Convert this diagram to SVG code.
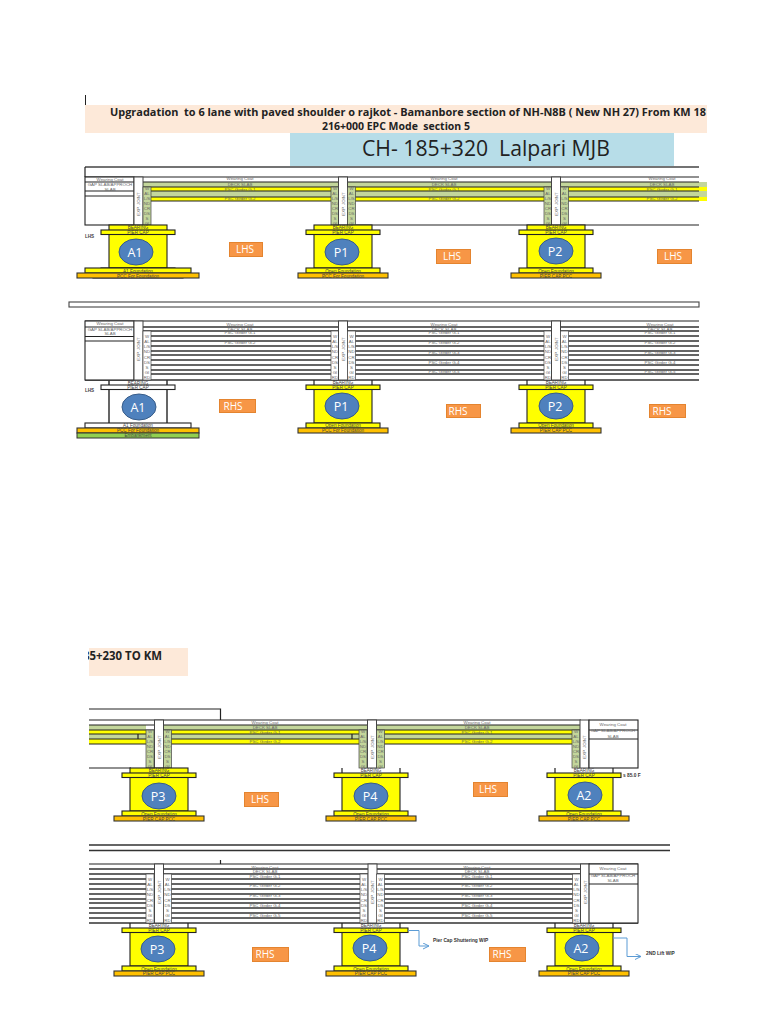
<svg xmlns="http://www.w3.org/2000/svg" width="768" height="1024" viewBox="0 0 768 1024">
<style>
text{font-family:"Liberation Sans",Arial,sans-serif}
.s{font-size:4.4px;fill:#666;text-anchor:middle}
.m{font-size:4.6px;fill:#444;text-anchor:middle}
.t{font-family:"Open Sans","Liberation Sans",sans-serif;font-weight:bold;font-size:11px;fill:#222}
.lab{font-family:"Open Sans","Liberation Sans",sans-serif;font-size:10px;fill:#fff;text-anchor:middle}
.bub{font-family:"Open Sans","Liberation Sans",sans-serif;font-size:12.5px;fill:#fff;text-anchor:middle}
.note{font-size:4.8px;font-weight:bold;fill:#333}
.ln{fill:none;stroke:#222;stroke-width:1.2}
.gl{fill:none;stroke:#333;stroke-width:1.5}
.gr{fill:#c3d69b}
.ye{fill:#ff0}
.box{fill:#fff;stroke:#222;stroke-width:1.1}
.jt{fill:#fff;stroke:#444;stroke-width:1}
.o{fill:#f79646;stroke:#e4842f;stroke-width:1}
.el{fill:#4f81bd;stroke:#385d8a;stroke-width:1}
.y{fill:#ff0;stroke:#222;stroke-width:1.1}
.w{fill:#fff;stroke:#222;stroke-width:1.1}
.p{fill:#ffc000;stroke:#333;stroke-width:1.1}
.g{fill:#92d050;stroke:#333;stroke-width:1}
.seatg{fill:#c3d69b;stroke:#444;stroke-width:.7}
.seatw{fill:#fff;stroke:#444;stroke-width:.7}
.ar{fill:none;stroke:#5b9bd5;stroke-width:1}
</style>
<defs>
<marker id="ah" markerWidth="7" markerHeight="7" refX="6" refY="3" orient="auto"><path d="M0 0L6 3L0 6" fill="none" stroke="#5b9bd5"/></marker>
<clipPath id="hc"><rect x="88" y="648" width="100" height="28"/></clipPath>
<g id="pier">
<rect class="y" x="0" y="0" width="58" height="5.5"/>
<rect class="y" x="0" y="9" width="58" height="34"/>
<rect class="y" x="-8" y="5" width="74" height="4.5"/>
<rect class="y" x="-8" y="43" width="74" height="5"/>
<rect class="p" x="-16" y="48" width="90" height="5"/>
<text class="m" x="29" y="4.2">BEARING</text>
<text class="m" x="29" y="8.7">PIER CAP</text>
</g>
<g id="pierw">
<path class="ln" d="M0 0V5.5M58 0V5.5"/>
<rect class="y" x="0" y="9" width="58" height="34"/>
<rect class="y" x="-8" y="5" width="74" height="4.5"/>
<rect class="y" x="-8" y="43" width="74" height="5"/>
<rect class="p" x="-16" y="48" width="90" height="5"/>
<text class="m" x="29" y="4.2">BEARING</text>
<text class="m" x="29" y="8.7">PIER CAP</text>
</g>
<g id="sg"><rect class="seatg" x="0" y="0" width="8" height="38"/>
<text class="s" x="4" y="3">W</text><text class="s" x="4" y="8">AL</text><text class="s" x="4" y="13">L/S</text><text class="s" x="4" y="18">ND</text><text class="s" x="4" y="23">CR</text><text class="s" x="4" y="28">DS</text><text class="s" x="4" y="33">S</text><text class="s" x="4" y="37.5">GI</text></g>
<g id="sw"><rect class="seatw" x="0" y="0" width="8" height="49"/>
<text class="s" x="4" y="6.5">W</text><text class="s" x="4" y="11.5">AL</text><text class="s" x="4" y="17">L/S</text><text class="s" x="4" y="22">ND</text><text class="s" x="4" y="27.5">CR</text><text class="s" x="4" y="32.5">DS</text><text class="s" x="4" y="38">S</text><text class="s" x="4" y="42.5">GI</text><text class="s" x="4" y="48">RD</text></g>
<g id="jl"><rect class="jt" x="0" y="0" width="9" height="48"/><text class="s" transform="translate(6 27) rotate(-90)">EXP. JOINT</text></g>
<g id="jr"><rect class="jt" x="0" y="0" width="9" height="59"/><text class="s" transform="translate(6 28) rotate(-90)">EXP. JOINT</text></g>
</defs>
<rect width="768" height="1024" fill="#fff"/>

<g id="title">
<path d="M85.500 95V105" stroke="#222" fill="none"/>
<rect x="85" y="105" width="622" height="28" fill="#fde9d9"/>
<text class="t" xml:space="preserve" x="110" y="116" textLength="596" lengthAdjust="spacingAndGlyphs">Upgradation  to 6 lane with paved shoulder o rajkot - Bamanbore section of NH-N8B ( New NH 27) From KM 18</text>
<text class="t" xml:space="preserve" x="396" y="129.500" text-anchor="middle" textLength="148" lengthAdjust="spacingAndGlyphs">216+000 EPC Mode  section 5</text>
<rect x="290" y="133" width="384" height="33" fill="#b7dde8"/>
<text xml:space="preserve" x="362" y="156" font-size="21" fill="#222" style="font-family:'Open Sans','Liberation Sans',sans-serif" textLength="248" lengthAdjust="spacingAndGlyphs">CH- 185+320  Lalpari MJB</text>
</g>

<g id="deck-lhs-1">
<path d="M85 167H699" stroke="#444" stroke-width="1.5"/>
<path class="ln" d="M85 167V177"/>
<rect class="gr" x="143" y="182" width="195" height="5"/><rect class="ye" x="143" y="187" width="195" height="4"/><rect class="gr" x="143" y="191" width="195" height="6"/><rect class="ye" x="143" y="197" width="195" height="4"/>
<rect class="gr" x="347" y="182" width="204" height="5"/><rect class="ye" x="347" y="187" width="204" height="4"/><rect class="gr" x="347" y="191" width="204" height="6"/><rect class="ye" x="347" y="197" width="204" height="4"/>
<rect class="gr" x="560" y="182" width="147" height="5"/><rect class="ye" x="560" y="187" width="147" height="4"/><rect class="gr" x="560" y="191" width="147" height="6"/><rect class="ye" x="560" y="197" width="147" height="4"/>
<path class="ln" d="M85 177H699M143 182H699M143 187H699M143 191H699M143 197H699M143 201H699M356 225H699"/>
<rect class="box" x="85" y="177" width="49" height="48"/><path class="ln" d="M85 182H134M85 191H134M85 196H134"/>
<text class="s" x="110" y="180.500">Wearing Coat</text><text class="s" x="110" y="186">GAP SLAB/APPROCH</text><text class="s" x="110" y="190.500">SLAB</text>
<text class="s" x="240" y="180">Wearing Coat</text><text class="s" x="240" y="185.500">DECK SLAB</text><text class="s" x="240" y="190.500">PSC Girder G-1</text><text class="s" x="240" y="200">PSC Girder G-2</text>
<text class="s" x="444" y="180">Wearing Coat</text><text class="s" x="444" y="185.500">DECK SLAB</text><text class="s" x="444" y="190.500">PSC Girder G-1</text><text class="s" x="444" y="200">PSC Girder G-2</text>
<text class="s" x="662" y="180">Wearing Coat</text><text class="s" x="662" y="185.500">DECK SLAB</text><text class="s" x="662" y="190.500">PSC Girder G-1</text><text class="s" x="662" y="200">PSC Girder G-2</text>
<use href="#jl" x="134" y="177"/><use href="#sg" x="143" y="187"/>
<use href="#sg" x="331" y="187"/><use href="#jl" x="338.500" y="177"/><use href="#sg" x="347.500" y="187"/>
<use href="#sg" x="544" y="187"/><use href="#jl" x="551.500" y="177"/><use href="#sg" x="560.500" y="187"/>
<text class="m" x="85" y="238" style="text-anchor:start;font-weight:bold">LHS</text>
</g>
<g id="A1-lhs"><use href="#pier" x="109" y="225"/><rect class="y" x="85" y="268" width="106" height="5"/><rect class="p" x="77" y="273" width="122" height="5"/><text class="m" x="138" y="272.500">A1 Foundation</text><text class="m" x="138" y="277.500">PCC For Foundation</text><ellipse class="el" cx="136" cy="252" rx="17" ry="13"/><text class="bub" x="135" y="256.500">A1</text></g>
<g id="P1-lhs"><use href="#pier" x="314" y="225"/><text class="m" x="343" y="272.500">Open Foundation</text><text class="m" x="343" y="277.500">PCC For Foundation</text><ellipse class="el" cx="342" cy="252" rx="17" ry="13"/><text class="bub" x="341" y="256.500">P1</text></g>
<g id="P2-lhs"><use href="#pier" x="527" y="225"/><text class="m" x="556" y="272.500">Open Foundation</text><text class="m" x="556" y="277.500">PIER CAP PCC</text><ellipse class="el" cx="556" cy="251" rx="17" ry="13"/><text class="bub" x="555" y="255.500">P2</text></g>
<g id="lhs-1"><rect class="o" x="229.500" y="242.500" width="33" height="14"/><text class="lab" x="245" y="253">LHS</text></g>
<g id="lhs-2"><rect class="o" x="436.500" y="249.500" width="34" height="14"/><text class="lab" x="452" y="260">LHS</text></g>
<g id="lhs-3"><rect class="o" x="657.500" y="249.500" width="34" height="14"/><text class="lab" x="673" y="260">LHS</text></g>

<g id="deck-rhs-1">
<rect x="69" y="302" width="630" height="5" fill="#fff" stroke="#444" stroke-width="1.1"/>
<path class="ln" d="M85 321H699"/>
<path class="gl" d="M143 327H699M143 331H699M143 336H699M143 341H699M143 346H699M143 351H699M143 355H699M143 360H699M143 365H699M143 370H699M143 374H699M85 380H699"/>
<rect class="box" x="85" y="321" width="49" height="59"/><path class="ln" d="M85 327H134M85 336.500H134M85 341H134"/>
<text class="s" x="110" y="324.500">Wearing Coat</text><text class="s" x="110" y="330.500">GAP SLAB/APPROCH</text><text class="s" x="110" y="335">SLAB</text>
<g id="rhs1-a"><text class="s" x="240" y="325.500">Wearing Coat</text><text class="s" x="240" y="330.500">DECK SLAB</text><text class="s" x="240" y="334">PSC Girder G-1</text><text class="s" x="240" y="344">PSC Girder G-2</text></g>
<text class="s" x="444" y="325.500">Wearing Coat</text><text class="s" x="444" y="330.500">DECK SLAB</text><text class="s" x="444" y="334">PSC Girder G-1</text><text class="s" x="444" y="344">PSC Girder G-2</text><text class="s" x="444" y="354">PSC Girder G-3</text><text class="s" x="444" y="364">PSC Girder G-4</text><text class="s" x="444" y="373">PSC Girder G-5</text>
<text class="s" x="660" y="325.500">Wearing Coat</text><text class="s" x="660" y="330.500">DECK SLAB</text><text class="s" x="660" y="334">PSC Girder G-1</text><text class="s" x="660" y="344">PSC Girder G-2</text><text class="s" x="660" y="354">PSC Girder G-3</text><text class="s" x="660" y="364">PSC Girder G-4</text><text class="s" x="660" y="373">PSC Girder G-5</text>
<use href="#jr" x="134" y="321"/><use href="#sw" x="143" y="331"/>
<use href="#sw" x="331" y="331"/><use href="#jr" x="338.500" y="321"/><use href="#sw" x="347.500" y="331"/>
<use href="#sw" x="544" y="331"/><use href="#jr" x="551.500" y="321"/><use href="#sw" x="560.500" y="331"/>
<text class="m" x="85" y="392" style="text-anchor:start;font-weight:bold">LHS</text>
</g>
<g id="A1-rhs">
<path class="gl" d="M109 380V423M167 380V423"/><rect class="w" x="101" y="385" width="74" height="4.500"/><rect class="w" x="85" y="423" width="106" height="5"/><rect class="p" x="77" y="428" width="122" height="5"/><rect class="g" x="77" y="433" width="122" height="5"/>
<text class="m" x="138" y="384.500">BEARING</text><text class="m" x="138" y="388.500">PIER CAP</text><text class="m" x="138" y="427">A1 Foundation</text><text class="m" x="138" y="432">PCC For Foundation</text><text class="m" x="138" y="437">Embankment</text>
<ellipse class="el" cx="139" cy="407" rx="17" ry="13"/><text class="bub" x="138" y="411.500">A1</text></g>
<g id="P1-rhs"><use href="#pierw" x="314" y="380"/><text class="m" x="343" y="427">Open Foundation</text><text class="m" x="343" y="432">PCC For Foundation</text><ellipse class="el" cx="342" cy="406" rx="17" ry="13"/><text class="bub" x="341" y="410.500">P1</text></g>
<g id="P2-rhs"><use href="#pierw" x="527" y="380"/><text class="m" x="556" y="427">Open Foundation</text><text class="m" x="556" y="432">PIER CAP PCC</text><ellipse class="el" cx="556" cy="406" rx="17" ry="13"/><text class="bub" x="555" y="410.500">P2</text></g>
<g id="rhs-1"><rect class="o" x="219.500" y="399.500" width="36" height="13"/><text class="lab" x="233" y="410">RHS</text></g>
<g id="rhs-2"><rect class="o" x="446.500" y="404.500" width="34" height="13"/><text class="lab" x="458" y="415">RHS</text></g>
<g id="rhs-3"><rect class="o" x="649.500" y="404.500" width="36" height="13"/><text class="lab" x="662" y="415">RHS</text></g>

<g id="heading-2"><rect x="89" y="648" width="99" height="28" fill="#fde9d9"/><text clip-path="url(#hc)" x="83" y="660" font-size="12.500" font-weight="bold" fill="#222" style="font-family:'Open Sans','Liberation Sans',sans-serif" textLength="79" lengthAdjust="spacingAndGlyphs">85+230 TO KM</text></g>

<g id="deck-lhs-2">
<rect class="gr" x="89" y="725" width="57" height="5"/><rect class="ye" x="89" y="730" width="57" height="4"/><rect class="gr" x="89" y="734" width="57" height="5"/><rect class="ye" x="89" y="739" width="57" height="5"/>
<rect class="gr" x="163" y="725" width="205" height="5"/><rect class="ye" x="163" y="730" width="205" height="4"/><rect class="gr" x="163" y="734" width="205" height="5"/><rect class="ye" x="163" y="739" width="205" height="5"/>
<rect class="gr" x="376" y="725" width="205" height="5"/><rect class="ye" x="376" y="730" width="205" height="4"/><rect class="gr" x="376" y="734" width="205" height="5"/><rect class="ye" x="376" y="739" width="205" height="5"/>
<path class="ln" d="M89 709H220.500V720M89 720H581M89 725H581M89 730H581M89 734H581M89 739H581M89 744H581M89 768H131M138 734V739M352 734V739"/>
<text class="s" x="265" y="723.500">Wearing Coat</text><text class="s" x="265" y="728.500">DECK SLAB</text><text class="s" x="265" y="733.500">PSC Girder G-1</text><text class="s" x="265" y="743">PSC Girder G-2</text>
<text class="s" x="477" y="723.500">Wearing Coat</text><text class="s" x="477" y="728.500">DECK SLAB</text><text class="s" x="477" y="733.500">PSC Girder G-1</text><text class="s" x="477" y="743">PSC Girder G-2</text>
<use href="#sg" x="146" y="730"/><use href="#jl" x="154.500" y="720"/><use href="#sg" x="163.500" y="730"/>
<use href="#sg" x="359" y="730"/><use href="#jl" x="367.500" y="720"/><use href="#sg" x="376.500" y="730"/>
<use href="#sg" x="572" y="730"/><use href="#jl" x="580" y="720"/>
<rect class="box" x="589" y="720" width="49" height="48"/><path class="ln" d="M589 730H638M589 739H638"/>
<text class="s" x="613" y="726">Wearing Coat</text><text class="s" x="613" y="732">GAP SLAB/APPROCH</text><text class="s" x="613" y="738">SLAB</text>
</g>
<g id="P3-lhs"><use href="#pier" x="130" y="768"/><text class="m" x="159" y="816">Open Foundation</text><text class="m" x="159" y="820.500">PIER CAP PCC</text><ellipse class="el" cx="159" cy="796" rx="17" ry="13"/><text class="bub" x="158" y="800.500">P3</text></g>
<g id="P4-lhs"><use href="#pierw" x="342" y="768"/><text class="m" x="371" y="816">Open Foundation</text><text class="m" x="371" y="820.500">PIER CAP PCC</text><ellipse class="el" cx="371" cy="796" rx="17" ry="13"/><text class="bub" x="370" y="800.500">P4</text></g>
<g id="A2-lhs"><use href="#pierw" x="555" y="768"/><text class="m" x="584" y="816">Open Foundation</text><text class="m" x="584" y="820.500">PIER CAP PCC</text><ellipse class="el" cx="585" cy="795" rx="17" ry="13"/><text class="bub" x="584" y="799.500">A2</text><text class="note" x="623" y="776.500">s 85.0 F</text></g>
<g id="lhs-4"><rect class="o" x="244.500" y="792.500" width="34" height="14"/><text class="lab" x="260" y="803">LHS</text></g>
<g id="lhs-5"><rect class="o" x="473.500" y="782.500" width="34" height="14"/><text class="lab" x="488" y="793">LHS</text></g>

<g id="deck-rhs-2">
<path class="gl" d="M89 845H670M89 850.500H670"/>
<path class="ln" d="M89 864H638M220.500 860V864"/>
<path class="gl" d="M89 869H581M89 874H581M89 879H581M89 884H581M89 889H581M89 894H581M89 899H581M89 903H581M89 908H581M89 913H581M89 918H581M89 923H638"/>
<text class="s" x="265" y="868.500">Wearing Coat</text><text class="s" x="265" y="873">DECK SLAB</text><text class="s" x="265" y="877.500">PSC Girder G-1</text><text class="s" x="265" y="887">PSC Girder G-2</text><text class="s" x="265" y="897">PSC Girder G-3</text><text class="s" x="265" y="907">PSC Girder G-4</text><text class="s" x="265" y="917">PSC Girder G-5</text>
<text class="s" x="477" y="868.500">Wearing Coat</text><text class="s" x="477" y="873">DECK SLAB</text><text class="s" x="477" y="877.500">PSC Girder G-1</text><text class="s" x="477" y="887">PSC Girder G-2</text><text class="s" x="477" y="897">PSC Girder G-3</text><text class="s" x="477" y="907">PSC Girder G-4</text><text class="s" x="477" y="917">PSC Girder G-5</text>
<use href="#sw" x="146" y="874"/><use href="#jr" x="154.500" y="864"/><use href="#sw" x="163.500" y="874"/>
<use href="#sw" x="360" y="874"/><use href="#jr" x="368" y="864"/><use href="#sw" x="376.500" y="874"/>
<use href="#sw" x="572.500" y="874"/><use href="#jr" x="580.500" y="864"/>
<rect class="box" x="589" y="864" width="49" height="59"/><path class="ln" d="M589 874H638M589 884H638"/>
<text class="s" x="613" y="870">Wearing Coat</text><text class="s" x="613" y="877">GAP SLAB/APPROCH</text><text class="s" x="613" y="882">SLAB</text>
</g>
<g id="P3-rhs"><use href="#pierw" x="130" y="923"/><text class="m" x="159" y="970.500">Open Foundation</text><text class="m" x="159" y="975">PIER CAP PCC</text><ellipse class="el" cx="158" cy="949" rx="17" ry="13"/><text class="bub" x="157" y="953.500">P3</text></g>
<g id="P4-rhs"><use href="#pierw" x="342" y="923"/><text class="m" x="371" y="970.500">Open Foundation</text><text class="m" x="371" y="975">PIER CAP PCC</text><ellipse class="el" cx="370" cy="948" rx="17" ry="13"/><text class="bub" x="369" y="952.500">P4</text></g>
<g id="A2-rhs"><use href="#pierw" x="555" y="923"/><text class="m" x="584" y="970.500">Open Foundation</text><text class="m" x="584" y="975">PIER CAP PCC</text><ellipse class="el" cx="582" cy="948" rx="17" ry="13"/><text class="bub" x="581" y="952.500">A2</text></g>
<g id="rhs-4"><rect class="o" x="252.500" y="947.500" width="36" height="14"/><text class="lab" x="265" y="958">RHS</text></g>
<g id="rhs-5"><rect class="o" x="489.500" y="947.500" width="36" height="14"/><text class="lab" x="502" y="958">RHS</text></g>
<g id="note-1"><text class="note" x="433" y="941.500">Pier Cap Shuttering WIP</text></g>
<g id="note-2"><text class="note" x="646" y="954.500">2ND Lift WIP</text></g>

<g id="connectors">
<path class="ar" marker-end="url(#ah)" d="M408 930.500H419V946H429"/>
<path class="ar" marker-end="url(#ah)" d="M613 938H627V956.500H641"/>
</g>
</svg>
